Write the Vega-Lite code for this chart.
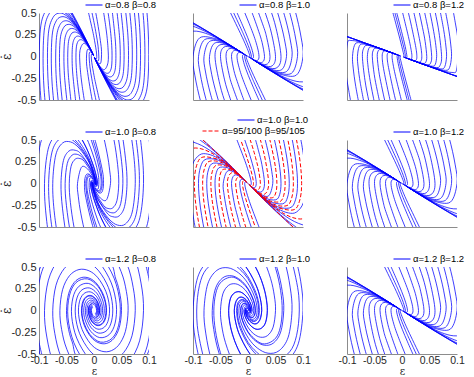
{
"$schema":"https://vega.github.io/schema/vega-lite/v6.json",
"padding":{"left":0,"top":-4,"right":0,"bottom":0},
"config":{"view":{"stroke":null},
"axis":{"grid":false,"ticks":false,"domainColor":"#8c8c8c","domainWidth":1,"labelFont":"Liberation Sans","labelFontSize":11,"labelColor":"#262626","labelPadding":3,"labelOverlap":false,"labelFlush":false,"titleFont":"DejaVu Serif","titleFontSize":12,"titleFontWeight":"normal","titleColor":"#262626","titlePadding":-3},
"legend":{"orient":"none","symbolType":"stroke","symbolSize":289,"symbolStrokeWidth":1,"labelFont":"Liberation Sans","labelFontSize":9.5,"labelColor":"#000000","labelOffset":2,"padding":0,"rowPadding":0}},
"data":{"values":[
{"c":101,"x":0.0112,"y":-0.538},{"c":101,"x":0.0033,"y":-0.318},{"c":101,"x":0,"y":-0.2175},{"c":101,"x":-0.0041,"y":-0.066},{"c":101,"x":-0.0049,"y":0.013},{"c":101,"x":-0.0035,"y":0.029},{"c":101,"x":-0.0007,"y":0.0085},
{"c":102,"x":0,"y":-0.609},{"c":102,"x":-0.0062,"y":-0.399},{"c":102,"x":-0.0115,"y":-0.185},{"c":102,"x":-0.0137,"y":-0.055},{"c":102,"x":-0.0123,"y":0.074},{"c":102,"x":-0.0069,"y":0.07},{"c":102,"x":-0.0019,"y":0.024},
{"c":103,"x":-0.0116,"y":-0.741},{"c":103,"x":-0.0214,"y":-0.343},{"c":103,"x":-0.0254,"y":-0.102},{"c":103,"x":-0.0255,"y":0.068},{"c":103,"x":-0.0182,"y":0.152},{"c":103,"x":-0.0075,"y":0.085},{"c":103,"x":-0.0011,"y":0.014},
{"c":104,"x":-0.033,"y":-0.528},{"c":104,"x":-0.0391,"y":-0.156},{"c":104,"x":-0.0393,"y":0.105},{"c":104,"x":-0.0351,"y":0.211},{"c":104,"x":-0.028,"y":0.234},{"c":104,"x":-0.0197,"y":0.199},{"c":104,"x":-0.0115,"y":0.131},{"c":104,"x":-0.0054,"y":0.068},{"c":104,"x":-0.0016,"y":0.022},
{"c":105,"x":-0.0453,"y":-0.725},{"c":105,"x":-0.0537,"y":-0.215},{"c":105,"x":-0.054,"y":0.144},{"c":105,"x":-0.0483,"y":0.29},{"c":105,"x":-0.0384,"y":0.322},{"c":105,"x":-0.0271,"y":0.273},{"c":105,"x":-0.0158,"y":0.18},{"c":105,"x":-0.0075,"y":0.093},{"c":105,"x":-0.0022,"y":0.03},
{"c":106,"x":-0.0577,"y":-0.923},{"c":106,"x":-0.0684,"y":-0.274},{"c":106,"x":-0.0687,"y":0.183},{"c":106,"x":-0.0615,"y":0.369},{"c":106,"x":-0.0489,"y":0.41},{"c":106,"x":-0.0345,"y":0.348},{"c":106,"x":-0.0201,"y":0.23},{"c":106,"x":-0.0095,"y":0.118},{"c":106,"x":-0.0028,"y":0.038},
{"c":107,"x":-0.07,"y":-1.121},{"c":107,"x":-0.083,"y":-0.332},{"c":107,"x":-0.0835,"y":0.223},{"c":107,"x":-0.0746,"y":0.448},{"c":107,"x":-0.0594,"y":0.498},{"c":107,"x":-0.0419,"y":0.422},{"c":107,"x":-0.0244,"y":0.279},{"c":107,"x":-0.0116,"y":0.144},{"c":107,"x":-0.0034,"y":0.046},
{"c":108,"x":-0.0824,"y":-1.319},{"c":108,"x":-0.0977,"y":-0.391},{"c":108,"x":-0.0982,"y":0.262},{"c":108,"x":-0.0878,"y":0.527},{"c":108,"x":-0.0699,"y":0.586},{"c":108,"x":-0.0493,"y":0.497},{"c":108,"x":-0.0287,"y":0.328},{"c":108,"x":-0.0136,"y":0.169},{"c":108,"x":-0.004,"y":0.054},
{"c":109,"x":-0.0839,"y":0.703},{"c":109,"x":-0.0592,"y":0.596},{"c":109,"x":-0.0344,"y":0.394},{"c":109,"x":-0.0163,"y":0.203},{"c":109,"x":-0.0048,"y":0.065},
{"c":110,"x":-0.0887,"y":0.895},{"c":110,"x":-0.0517,"y":0.59},{"c":110,"x":-0.0245,"y":0.304},{"c":110,"x":-0.0073,"y":0.097},{"c":110,"x":-0.0005,"y":0.0077},
{"c":111,"x":-0.1005,"y":1.148},{"c":111,"x":-0.0476,"y":0.5915},{"c":111,"x":-0.0141,"y":0.189},{"c":111,"x":-0.001,"y":0.015},
{"c":112,"x":-0.0147,"y":-0.94},{"c":112,"x":-0.0272,"y":-0.435},{"c":112,"x":-0.0322,"y":-0.129},{"c":112,"x":-0.0324,"y":0.0865},{"c":112,"x":-0.029,"y":0.174},{"c":112,"x":-0.0231,"y":0.193},{"c":112,"x":-0.0163,"y":0.164},{"c":112,"x":-0.0095,"y":0.108},{"c":112,"x":-0.0045,"y":0.0558},{"c":112,"x":-0.0013,"y":0.0178},
{"c":113,"x":-0.0396,"y":-0.633},{"c":113,"x":-0.0469,"y":-0.188},{"c":113,"x":-0.0471,"y":0.126},{"c":113,"x":-0.0421,"y":0.253},{"c":113,"x":-0.0336,"y":0.281},{"c":113,"x":-0.0237,"y":0.239},{"c":113,"x":-0.0138,"y":0.157},{"c":113,"x":-0.0065,"y":0.081},{"c":113,"x":-0.0019,"y":0.0259},
{"c":114,"x":-0.0519,"y":-0.831},{"c":114,"x":-0.0616,"y":-0.246},{"c":114,"x":-0.0619,"y":0.165},{"c":114,"x":-0.0553,"y":0.332},{"c":114,"x":-0.044,"y":0.369},{"c":114,"x":-0.0311,"y":0.313},{"c":114,"x":-0.0181,"y":0.207},{"c":114,"x":-0.0086,"y":0.106},{"c":114,"x":-0.0025,"y":0.034},
{"c":115,"x":-0.0643,"y":-1.029},{"c":115,"x":-0.0762,"y":-0.305},{"c":115,"x":-0.0766,"y":0.204},{"c":115,"x":-0.0685,"y":0.411},{"c":115,"x":-0.0545,"y":0.457},{"c":115,"x":-0.0385,"y":0.388},{"c":115,"x":-0.0224,"y":0.256},{"c":115,"x":-0.0106,"y":0.132},{"c":115,"x":-0.0032,"y":0.042},
{"c":116,"x":-0.0766,"y":-1.227},{"c":116,"x":-0.0909,"y":-0.364},{"c":116,"x":-0.0913,"y":0.244},{"c":116,"x":-0.0817,"y":0.49},{"c":116,"x":-0.065,"y":0.545},{"c":116,"x":-0.0458,"y":0.462},{"c":116,"x":-0.0267,"y":0.305},{"c":116,"x":-0.0126,"y":0.157},{"c":116,"x":-0.0038,"y":0.05},
{"c":117,"x":-0.1233,"y":1.243},{"c":117,"x":-0.0718,"y":0.82},{"c":117,"x":-0.034,"y":0.4225},{"c":117,"x":-0.0101,"y":0.135},{"c":117,"x":-0.0008,"y":0.011},
{"c":118,"x":0.006,"y":-0.573},{"c":118,"x":0,"y":-0.392},{"c":118,"x":-0.004,"y":-0.2565},{"c":118,"x":-0.0074,"y":-0.119},{"c":118,"x":-0.0088,"y":0.0236},{"c":118,"x":-0.0063,"y":0.0527},{"c":118,"x":-0.0026,"y":0.0295},{"c":118,"x":-0.0004,"y":0.0049},
{"c":201,"x":0.0342,"y":-0.534},{"c":201,"x":0.0135,"y":-0.2625},{"c":201,"x":0.0033,"y":-0.12},{"c":201,"x":-0.0022,"y":-0.032},{"c":201,"x":-0.0033,"y":0},{"c":201,"x":-0.0025,"y":0.0077},{"c":201,"x":-0.0005,"y":0.002},
{"c":202,"x":0.0202,"y":-0.507},{"c":202,"x":0.01,"y":-0.36},{"c":202,"x":0.0005,"y":-0.2166},{"c":202,"x":-0.0065,"y":-0.096},{"c":202,"x":-0.01,"y":0},{"c":202,"x":-0.0074,"y":0.023},{"c":202,"x":-0.0015,"y":0.006},
{"c":203,"x":0.02,"y":-0.72},{"c":203,"x":-0.0071,"y":-0.299},{"c":203,"x":-0.017,"y":-0.108},{"c":203,"x":-0.02,"y":0},{"c":203,"x":-0.0176,"y":0.043},{"c":203,"x":-0.0114,"y":0.04},{"c":203,"x":-0.003,"y":0.012},
{"c":204,"x":0.0022,"y":-0.866},{"c":204,"x":-0.026,"y":-0.383},{"c":204,"x":-0.0341,"y":-0.215},{"c":204,"x":-0.04,"y":0},{"c":204,"x":-0.0352,"y":0.0857},{"c":204,"x":-0.0227,"y":0.0806},{"c":204,"x":-0.006,"y":0.0238},
{"c":205,"x":-0.0212,"y":-0.898},{"c":205,"x":-0.039,"y":-0.575},{"c":205,"x":-0.0511,"y":-0.323},{"c":205,"x":-0.06,"y":0},{"c":205,"x":-0.0527,"y":0.1285},{"c":205,"x":-0.0341,"y":0.121},{"c":205,"x":-0.009,"y":0.0356},
{"c":206,"x":-0.052,"y":-0.767},{"c":206,"x":-0.0682,"y":-0.431},{"c":206,"x":-0.0772,"y":-0.178},{"c":206,"x":-0.08,"y":0},{"c":206,"x":-0.0703,"y":0.171},{"c":206,"x":-0.0455,"y":0.161},{"c":206,"x":-0.012,"y":0.0475},
{"c":207,"x":-0.065,"y":-0.959},{"c":207,"x":-0.0852,"y":-0.539},{"c":207,"x":-0.0965,"y":-0.223},{"c":207,"x":-0.1,"y":0},{"c":207,"x":-0.0879,"y":0.214},{"c":207,"x":-0.0569,"y":0.2016},{"c":207,"x":-0.0368,"y":0.1406},{"c":207,"x":-0.015,"y":0.0594},
{"c":208,"x":-0.1226,"y":0.179},{"c":208,"x":-0.111,"y":0.271},{"c":208,"x":-0.094,"y":0.291},{"c":208,"x":-0.072,"y":0.255},{"c":208,"x":-0.0466,"y":0.178},{"c":208,"x":-0.019,"y":0.075},
{"c":209,"x":-0.1236,"y":0.3835},{"c":209,"x":-0.0948,"y":0.336},{"c":209,"x":-0.0613,"y":0.234},{"c":209,"x":-0.0249,"y":0.099},{"c":209,"x":-0.0075,"y":0.03},
{"c":210,"x":-0.1327,"y":0.47},{"c":210,"x":-0.0858,"y":0.328},{"c":210,"x":-0.0349,"y":0.1386},{"c":210,"x":-0.0105,"y":0.042},
{"c":211,"x":-0.147,"y":0.5625},{"c":211,"x":-0.0598,"y":0.2376},{"c":211,"x":-0.018,"y":0.072},
{"c":212,"x":0.03,"y":-1.08},{"c":212,"x":0.0016,"y":-0.65},{"c":212,"x":-0.0106,"y":-0.449},{"c":212,"x":-0.0195,"y":-0.288},{"c":212,"x":-0.0256,"y":-0.1616},{"c":212,"x":-0.03,"y":0},{"c":212,"x":-0.0264,"y":0.0643},{"c":212,"x":-0.0171,"y":0.0605},{"c":212,"x":-0.0045,"y":0.0178},
{"c":213,"x":0.0027,"y":-1.083},{"c":213,"x":-0.0176,"y":-0.7485},{"c":213,"x":-0.0326,"y":-0.479},{"c":213,"x":-0.0426,"y":-0.269},{"c":213,"x":-0.05,"y":0},{"c":213,"x":-0.044,"y":0.1071},{"c":213,"x":-0.0284,"y":0.1008},{"c":213,"x":-0.0075,"y":0.0297},
{"c":214,"x":-0.0247,"y":-1.048},{"c":214,"x":-0.0456,"y":-0.671},{"c":214,"x":-0.0596,"y":-0.377},{"c":214,"x":-0.0675,"y":-0.1558},{"c":214,"x":-0.07,"y":0},{"c":214,"x":-0.0615,"y":0.15},{"c":214,"x":-0.0398,"y":0.1411},{"c":214,"x":-0.0105,"y":0.0416},
{"c":215,"x":-0.0586,"y":-0.863},{"c":215,"x":-0.0767,"y":-0.485},{"c":215,"x":-0.0868,"y":-0.2},{"c":215,"x":-0.09,"y":0},{"c":215,"x":-0.0791,"y":0.1928},{"c":215,"x":-0.0512,"y":0.1814},{"c":215,"x":-0.0331,"y":0.1266},{"c":215,"x":-0.0135,"y":0.0535},
{"c":216,"x":-0.1706,"y":0.605},{"c":216,"x":-0.1103,"y":0.422},{"c":216,"x":-0.0449,"y":0.1782},{"c":216,"x":-0.0135,"y":0.054},
{"c":217,"x":0.031,"y":-0.569},{"c":217,"x":0.0128,"y":-0.321},{"c":217,"x":0.0063,"y":-0.228},{"c":217,"x":-0.0022,"y":-0.0948},{"c":217,"x":-0.0063,"y":0},{"c":217,"x":-0.0047,"y":0.0146},{"c":217,"x":-0.0009,"y":0.0038},
{"c":301,"x":0.0171,"y":-0.517},{"c":301,"x":0.0106,"y":-0.364},{"c":301,"x":0.0038,"y":-0.2016},{"c":301,"x":-0.0023,"y":-0.046},{"c":301,"x":-0.0036,"y":0},{"c":301,"x":-0.0022,"y":0.005},
{"c":302,"x":0.0096,"y":-0.504},{"c":302,"x":0.0008,"y":-0.287},{"c":302,"x":-0.0058,"y":-0.115},{"c":302,"x":-0.009,"y":0},{"c":302,"x":-0.0079,"y":0.0159},{"c":302,"x":-0.0035,"y":0.008},
{"c":303,"x":0.0016,"y":-0.574},{"c":303,"x":-0.0116,"y":-0.2296},{"c":303,"x":-0.0168,"y":-0.0687},{"c":303,"x":-0.018,"y":0},{"c":303,"x":-0.0166,"y":0.03},{"c":303,"x":-0.011,"y":0.0252},{"c":303,"x":-0.003,"y":0.0069},
{"c":304,"x":-0.0127,"y":-0.742},{"c":304,"x":-0.0232,"y":-0.459},{"c":304,"x":-0.0336,"y":-0.137},{"c":304,"x":-0.036,"y":0},{"c":304,"x":-0.0346,"y":0.0507},{"c":304,"x":-0.0316,"y":0.0637},{"c":304,"x":-0.022,"y":0.0504},{"c":304,"x":-0.006,"y":0.0138},
{"c":305,"x":-0.0349,"y":-0.689},{"c":305,"x":-0.0447,"y":-0.4},{"c":305,"x":-0.0505,"y":-0.206},{"c":305,"x":-0.054,"y":0},{"c":305,"x":-0.0519,"y":0.0761},{"c":305,"x":-0.0473,"y":0.0956},{"c":305,"x":-0.033,"y":0.0755},{"c":305,"x":-0.009,"y":0.0207},
{"c":306,"x":-0.0465,"y":-0.918},{"c":306,"x":-0.0596,"y":-0.533},{"c":306,"x":-0.0673,"y":-0.275},{"c":306,"x":-0.072,"y":0},{"c":306,"x":-0.0692,"y":0.1014},{"c":306,"x":-0.0631,"y":0.1274},{"c":306,"x":-0.044,"y":0.1007},{"c":306,"x":-0.012,"y":0.0276},
{"c":307,"x":-0.0745,"y":-0.666},{"c":307,"x":-0.0841,"y":-0.344},{"c":307,"x":-0.0887,"y":-0.133},{"c":307,"x":-0.09,"y":0},{"c":307,"x":-0.0865,"y":0.1268},{"c":307,"x":-0.0789,"y":0.1593},{"c":307,"x":-0.055,"y":0.1259},{"c":307,"x":-0.015,"y":0.0345},
{"c":308,"x":-0.0857,"y":-0.766},{"c":308,"x":-0.0967,"y":-0.395},{"c":308,"x":-0.102,"y":-0.153},{"c":308,"x":-0.0995,"y":0.1458},{"c":308,"x":-0.0907,"y":0.1832},{"c":308,"x":-0.0632,"y":0.1448},{"c":308,"x":-0.0173,"y":0.0397},
{"c":309,"x":-0.118,"y":0.239},{"c":309,"x":-0.1046,"y":0.232},{"c":309,"x":-0.0825,"y":0.189},{"c":309,"x":-0.0525,"y":0.121},{"c":309,"x":-0.0225,"y":0.0518},
{"c":310,"x":-0.137,"y":0.315},{"c":310,"x":-0.0875,"y":0.201},{"c":310,"x":-0.0375,"y":0.086},{"c":310,"x":-0.0125,"y":0.029},
{"c":311,"x":-0.175,"y":0.4025},{"c":311,"x":-0.075,"y":0.1725},{"c":311,"x":-0.025,"y":0.0575},
{"c":312,"x":0.0024,"y":-0.862},{"c":312,"x":-0.0096,"y":-0.5565},{"c":312,"x":-0.0174,"y":-0.344},{"c":312,"x":-0.0252,"y":-0.103},{"c":312,"x":-0.027,"y":0},{"c":312,"x":-0.026,"y":0.038},{"c":312,"x":-0.0237,"y":0.0478},{"c":312,"x":-0.0165,"y":0.0378},{"c":312,"x":-0.0045,"y":0.0104},
{"c":313,"x":-0.0159,"y":-0.9275},{"c":313,"x":-0.029,"y":-0.574},{"c":313,"x":-0.0373,"y":-0.333},{"c":313,"x":-0.0421,"y":-0.172},{"c":313,"x":-0.045,"y":0},{"c":313,"x":-0.0433,"y":0.0634},{"c":313,"x":-0.0395,"y":0.0797},{"c":313,"x":-0.0275,"y":0.063},{"c":313,"x":-0.0075,"y":0.0173},
{"c":314,"x":-0.0407,"y":-0.804},{"c":314,"x":-0.0522,"y":-0.466},{"c":314,"x":-0.0589,"y":-0.2405},{"c":314,"x":-0.0621,"y":-0.0932},{"c":314,"x":-0.063,"y":0},{"c":314,"x":-0.0606,"y":0.0888},{"c":314,"x":-0.0552,"y":0.1115},{"c":314,"x":-0.0385,"y":0.0881},{"c":314,"x":-0.0105,"y":0.0242},
{"c":315,"x":-0.067,"y":-0.599},{"c":315,"x":-0.0757,"y":-0.309},{"c":315,"x":-0.0798,"y":-0.12},{"c":315,"x":-0.081,"y":0},{"c":315,"x":-0.0779,"y":0.1141},{"c":315,"x":-0.071,"y":0.1434},{"c":315,"x":-0.0495,"y":0.1133},{"c":315,"x":-0.0135,"y":0.031},
{"c":316,"x":0.0186,"y":-0.638},{"c":316,"x":0.0067,"y":-0.353},{"c":316,"x":0.00055,"y":-0.201},{"c":316,"x":-0.0041,"y":-0.0804},{"c":316,"x":-0.0063,"y":0},{"c":316,"x":-0.0055,"y":0.0112},{"c":316,"x":-0.0025,"y":0.0056},
{"c":317,"x":-0.1924,"y":0.4407},{"c":317,"x":-0.1225,"y":0.2818},{"c":317,"x":-0.0525,"y":0.1208},{"c":317,"x":-0.0175,"y":0.0403},
{"c":401,"x":0.0223,"y":-0.508},{"c":401,"x":0.0113,"y":-0.371},{"c":401,"x":0.0003,"y":-0.192},{"c":401,"x":-0.0048,"y":-0.07},{"c":401,"x":-0.006,"y":0},{"c":401,"x":-0.0034,"y":0.038},{"c":401,"x":-0.0004,"y":0.0148},{"c":401,"x":0.0003,"y":0},
{"c":402,"x":0.0123,"y":-0.686},{"c":402,"x":0.0007,"y":-0.479},{"c":402,"x":-0.0071,"y":-0.309},{"c":402,"x":-0.0119,"y":-0.174},{"c":402,"x":-0.015,"y":0},{"c":402,"x":-0.0114,"y":0.093},{"c":402,"x":-0.0058,"y":0.084},{"c":402,"x":-0.001,"y":0.0369},{"c":402,"x":0.0006,"y":0},
{"c":403,"x":0.0014,"y":-0.958},{"c":403,"x":-0.0143,"y":-0.617},{"c":403,"x":-0.0238,"y":-0.349},{"c":403,"x":-0.0286,"y":-0.146},{"c":403,"x":-0.03,"y":0},{"c":403,"x":-0.0229,"y":0.186},{"c":403,"x":-0.0117,"y":0.168},{"c":403,"x":-0.002,"y":0.0738},{"c":403,"x":0.0011,"y":0.0122},{"c":403,"x":0.0011,"y":-0.0072},
{"c":404,"x":-0.0214,"y":-0.926},{"c":404,"x":-0.0357,"y":-0.523},{"c":404,"x":-0.0429,"y":-0.218},{"c":404,"x":-0.045,"y":0},{"c":404,"x":-0.0417,"y":0.197},{"c":404,"x":-0.0343,"y":0.279},{"c":404,"x":-0.0257,"y":0.287},{"c":404,"x":-0.0175,"y":0.253},{"c":404,"x":-0.003,"y":0.111},{"c":404,"x":0.0017,"y":0.018},{"c":404,"x":0.0016,"y":-0.011},
{"c":405,"x":-0.0285,"y":-1.235},{"c":405,"x":-0.0476,"y":-0.697},{"c":405,"x":-0.0572,"y":-0.291},{"c":405,"x":-0.06,"y":0},{"c":405,"x":-0.0556,"y":0.263},{"c":405,"x":-0.0458,"y":0.372},{"c":405,"x":-0.0343,"y":0.382},{"c":405,"x":-0.0234,"y":0.337},{"c":405,"x":-0.004,"y":0.148},{"c":405,"x":0.0022,"y":0.0244},{"c":405,"x":0.0022,"y":-0.0145},
{"c":406,"x":-0.0595,"y":-0.872},{"c":406,"x":-0.0716,"y":-0.364},{"c":406,"x":-0.075,"y":0},{"c":406,"x":-0.0695,"y":0.328},{"c":406,"x":-0.0572,"y":0.465},{"c":406,"x":-0.0428,"y":0.478},{"c":406,"x":-0.0292,"y":0.421},{"c":406,"x":-0.0147,"y":0.303},{"c":406,"x":-0.005,"y":0.185},{"c":406,"x":0.0028,"y":0.0305},{"c":406,"x":0.0027,"y":-0.018},
{"c":407,"x":-0.0714,"y":-1.046},{"c":407,"x":-0.0859,"y":-0.437},{"c":407,"x":-0.09,"y":0},{"c":407,"x":-0.0834,"y":0.394},{"c":407,"x":-0.0687,"y":0.558},{"c":407,"x":-0.0514,"y":0.573},{"c":407,"x":-0.0351,"y":0.505},{"c":407,"x":-0.0176,"y":0.363},{"c":407,"x":-0.006,"y":0.221},{"c":407,"x":0.0033,"y":0.0366},{"c":407,"x":0.0033,"y":-0.0217},
{"c":408,"x":-0.0833,"y":-1.22},{"c":408,"x":-0.1002,"y":-0.51},{"c":408,"x":-0.105,"y":0},{"c":408,"x":-0.0973,"y":0.46},{"c":408,"x":-0.0801,"y":0.651},{"c":408,"x":-0.06,"y":0.669},{"c":408,"x":-0.0409,"y":0.589},{"c":408,"x":-0.0206,"y":0.424},{"c":408,"x":-0.007,"y":0.258},{"c":408,"x":0.0039,"y":0.0427},{"c":408,"x":0.0038,"y":-0.0254},
{"c":409,"x":-0.08,"y":0.892},{"c":409,"x":-0.0546,"y":0.786},{"c":409,"x":-0.0274,"y":0.565},{"c":409,"x":-0.0093,"y":0.345},{"c":409,"x":0.0052,"y":0.057},{"c":409,"x":0.0051,"y":-0.0338},
{"c":410,"x":-0.0858,"y":1.235},{"c":410,"x":-0.0431,"y":0.888},{"c":410,"x":-0.0147,"y":0.541},{"c":410,"x":0,"y":0.295},{"c":410,"x":0.0081,"y":0.0895},{"c":410,"x":0.0081,"y":-0.053},{"c":410,"x":0.0045,"y":-0.0575},
{"c":411,"x":-0.0784,"y":1.614},{"c":411,"x":-0.0267,"y":0.984},{"c":411,"x":0,"y":0.536},{"c":411,"x":0.0148,"y":0.163},{"c":411,"x":0.0173,"y":0},{"c":411,"x":0.0146,"y":-0.0966},{"c":411,"x":0.0082,"y":-0.1046},{"c":411,"x":0.0018,"y":-0.0516},
{"c":412,"x":-0.0249,"y":-1.08},{"c":412,"x":-0.0416,"y":-0.61},{"c":412,"x":-0.0501,"y":-0.255},{"c":412,"x":-0.0525,"y":0},{"c":412,"x":-0.0486,"y":0.23},{"c":412,"x":-0.04,"y":0.325},{"c":412,"x":-0.03,"y":0.334},{"c":412,"x":-0.0205,"y":0.295},{"c":412,"x":-0.0103,"y":0.212},{"c":412,"x":-0.0035,"y":0.129},{"c":412,"x":0.0019,"y":0.0214},{"c":412,"x":0.0019,"y":-0.0127},
{"c":413,"x":-0.0654,"y":-0.959},{"c":413,"x":-0.0787,"y":-0.4},{"c":413,"x":-0.0825,"y":0},{"c":413,"x":-0.0764,"y":0.361},{"c":413,"x":-0.0629,"y":0.511},{"c":413,"x":-0.0471,"y":0.526},{"c":413,"x":-0.0322,"y":0.463},{"c":413,"x":-0.0162,"y":0.333},{"c":413,"x":-0.0055,"y":0.203},{"c":413,"x":0.003,"y":0.0336},{"c":413,"x":0.003,"y":-0.0199},
{"c":414,"x":-0.0588,"y":1.211},{"c":414,"x":-0.02,"y":0.738},{"c":414,"x":0,"y":0.402},{"c":414,"x":0.0111,"y":0.122},{"c":414,"x":0.013,"y":0},{"c":414,"x":0.011,"y":-0.0725},{"c":414,"x":0.0061,"y":-0.0785},
{"c":501,"x":0.0205,"y":-0.508},{"c":501,"x":0.0094,"y":-0.3245},{"c":501,"x":0.0026,"y":-0.206},{"c":501,"x":-0.0038,"y":-0.0749},{"c":501,"x":-0.006,"y":0},{"c":501,"x":-0.0042,"y":0.0193},{"c":501,"x":-0.0006,"y":0.0037},
{"c":502,"x":0.0234,"y":-0.811},{"c":502,"x":0.0066,"y":-0.515},{"c":502,"x":-0.0054,"y":-0.281},{"c":502,"x":-0.0126,"y":-0.109},{"c":502,"x":-0.015,"y":0},{"c":502,"x":-0.0126,"y":0.0468},{"c":502,"x":-0.0077,"y":0.041},{"c":502,"x":-0.0015,"y":0.0093},
{"c":503,"x":0.0132,"y":-1.03},{"c":503,"x":-0.0108,"y":-0.562},{"c":503,"x":-0.0192,"y":-0.374},{"c":503,"x":-0.0252,"y":-0.218},{"c":503,"x":-0.03,"y":0},{"c":503,"x":-0.0252,"y":0.0936},{"c":503,"x":-0.0153,"y":0.0819},{"c":503,"x":-0.0029,"y":0.0185},
{"c":504,"x":-0.0162,"y":-0.842},{"c":504,"x":-0.0288,"y":-0.562},{"c":504,"x":-0.0378,"y":-0.328},{"c":504,"x":-0.0432,"y":-0.14},{"c":504,"x":-0.045,"y":0},{"c":504,"x":-0.0378,"y":0.14},{"c":504,"x":-0.023,"y":0.123},{"c":504,"x":-0.0044,"y":0.0278},
{"c":505,"x":-0.0216,"y":-1.123},{"c":505,"x":-0.0384,"y":-0.749},{"c":505,"x":-0.0504,"y":-0.437},{"c":505,"x":-0.0576,"y":-0.187},{"c":505,"x":-0.06,"y":0},{"c":505,"x":-0.0576,"y":0.125},{"c":505,"x":-0.0504,"y":0.187},{"c":505,"x":-0.0306,"y":0.164},{"c":505,"x":-0.0059,"y":0.0371},
{"c":506,"x":-0.048,"y":-0.936},{"c":506,"x":-0.063,"y":-0.546},{"c":506,"x":-0.072,"y":-0.234},{"c":506,"x":-0.075,"y":0},{"c":506,"x":-0.072,"y":0.156},{"c":506,"x":-0.063,"y":0.234},{"c":506,"x":-0.0383,"y":0.205},{"c":506,"x":-0.0208,"y":0.124},{"c":506,"x":-0.0073,"y":0.0464},
{"c":507,"x":-0.0576,"y":-1.123},{"c":507,"x":-0.0756,"y":-0.655},{"c":507,"x":-0.0864,"y":-0.281},{"c":507,"x":-0.09,"y":0},{"c":507,"x":-0.0864,"y":0.187},{"c":507,"x":-0.0756,"y":0.281},{"c":507,"x":-0.0459,"y":0.246},{"c":507,"x":-0.0088,"y":0.0556},
{"c":508,"x":-0.0882,"y":-0.764},{"c":508,"x":-0.1008,"y":-0.328},{"c":508,"x":-0.105,"y":0},{"c":508,"x":-0.1008,"y":0.218},{"c":508,"x":-0.0882,"y":0.328},{"c":508,"x":-0.0733,"y":0.338},{"c":508,"x":-0.0536,"y":0.287},{"c":508,"x":-0.0291,"y":0.174},{"c":508,"x":-0.0102,"y":0.0649},
{"c":509,"x":-0.126,"y":0.468},{"c":509,"x":-0.1047,"y":0.483},{"c":509,"x":-0.0765,"y":0.41},{"c":509,"x":-0.0416,"y":0.249},{"c":509,"x":-0.0146,"y":0.0927},
{"c":510,"x":-0.1275,"y":0.6825},{"c":510,"x":-0.0694,"y":0.4145},{"c":510,"x":-0.0244,"y":0.1545},
{"c":511,"x":-0.1388,"y":0.829},{"c":511,"x":-0.0488,"y":0.309},{"c":511,"x":-0.0149,"y":0.096},
{"c":551,"x":0.0156,"y":-0.541},{"c":551,"x":0.0044,"y":-0.343},{"c":551,"x":-0.0036,"y":-0.187},{"c":551,"x":-0.0084,"y":-0.0728},{"c":551,"x":-0.01,"y":0},{"c":551,"x":-0.0084,"y":0.0312},{"c":551,"x":-0.0051,"y":0.0273},{"c":551,"x":-0.001,"y":0.0062},
{"c":552,"x":0.0099,"y":-0.772},{"c":552,"x":-0.0081,"y":-0.421},{"c":552,"x":-0.0144,"y":-0.281},{"c":552,"x":-0.0189,"y":-0.164},{"c":552,"x":-0.0225,"y":0},{"c":552,"x":-0.0189,"y":0.0702},{"c":552,"x":-0.0115,"y":0.0614},{"c":552,"x":-0.0022,"y":0.0139},
{"c":553,"x":0,"y":-0.975},{"c":553,"x":-0.0135,"y":-0.702},{"c":553,"x":-0.024,"y":-0.468},{"c":553,"x":-0.0315,"y":-0.273},{"c":553,"x":-0.0375,"y":0},{"c":553,"x":-0.0315,"y":0.117},{"c":553,"x":-0.0191,"y":0.102},{"c":553,"x":-0.0037,"y":0.0232},
{"c":554,"x":-0.0189,"y":-0.983},{"c":554,"x":-0.0336,"y":-0.655},{"c":554,"x":-0.0441,"y":-0.382},{"c":554,"x":-0.0504,"y":-0.164},{"c":554,"x":-0.0525,"y":0},{"c":554,"x":-0.0504,"y":0.109},{"c":554,"x":-0.0441,"y":0.164},{"c":554,"x":-0.0268,"y":0.143},{"c":554,"x":-0.0051,"y":0.0324},
{"c":555,"x":-0.0432,"y":-0.842},{"c":555,"x":-0.0567,"y":-0.491},{"c":555,"x":-0.0648,"y":-0.211},{"c":555,"x":-0.0675,"y":0},{"c":555,"x":-0.0648,"y":0.14},{"c":555,"x":-0.0567,"y":0.211},{"c":555,"x":-0.0344,"y":0.184},{"c":555,"x":-0.0066,"y":0.0417},
{"c":556,"x":-0.0528,"y":-1.03},{"c":556,"x":-0.0693,"y":-0.601},{"c":556,"x":-0.0792,"y":-0.257},{"c":556,"x":-0.0825,"y":0},{"c":556,"x":-0.0792,"y":0.172},{"c":556,"x":-0.0693,"y":0.257},{"c":556,"x":-0.0421,"y":0.225},{"c":556,"x":-0.0081,"y":0.051},
{"c":557,"x":-0.0819,"y":-0.71},{"c":557,"x":-0.0936,"y":-0.304},{"c":557,"x":-0.0975,"y":0},{"c":557,"x":-0.0936,"y":0.203},{"c":557,"x":-0.0819,"y":0.304},{"c":557,"x":-0.0497,"y":0.266},{"c":557,"x":-0.0271,"y":0.162},{"c":557,"x":-0.0095,"y":0.0603},
{"c":558,"x":-0.12,"y":0.26},{"c":558,"x":-0.105,"y":0.39},{"c":558,"x":-0.0873,"y":0.402},{"c":558,"x":-0.0638,"y":0.341},{"c":558,"x":-0.0347,"y":0.207},{"c":558,"x":-0.0122,"y":0.0773},
{"c":559,"x":-0.1785,"y":0.9555},{"c":559,"x":-0.0972,"y":0.58},{"c":559,"x":-0.0342,"y":0.216},{"c":559,"x":-0.0104,"y":0.067},
{"c":701,"x":0.0967,"y":0.5985},{"c":701,"x":0.1085,"y":-0.1643},{"c":701,"x":0.0944,"y":-0.543},{"c":701,"x":0.0685,"y":-0.7705},{"c":701,"x":-0.0212,"y":-0.5945},{"c":701,"x":-0.0397,"y":-0.3608},{"c":701,"x":-0.0475,"y":-0.1752},{"c":701,"x":-0.05,"y":0},{"c":701,"x":-0.0461,"y":0.1938},{"c":701,"x":-0.0359,"y":0.323},{"c":701,"x":-0.0221,"y":0.3797},{"c":701,"x":-0.0074,"y":0.3685},{"c":701,"x":0.0057,"y":0.3034},{"c":701,"x":0.0174,"y":0.1762},{"c":701,"x":0.0226,"y":0.0367},{"c":701,"x":0.0214,"y":-0.0804},{"c":701,"x":0.0155,"y":-0.1531},{"c":701,"x":0.0057,"y":-0.173},{"c":701,"x":-0.0034,"y":-0.1325},{"c":701,"x":-0.009,"y":-0.06},{"c":701,"x":-0.0104,"y":0.0019},{"c":701,"x":-0.0086,"y":0.0567},{"c":701,"x":-0.0045,"y":0.0792},{"c":701,"x":0,"y":0.0704},{"c":701,"x":0.0033,"y":0.0417},{"c":701,"x":0.0047,"y":0.0013},{"c":701,"x":0.004,"y":-0.0246},{"c":701,"x":0.0018,"y":-0.0363},
{"c":702,"x":0.0067,"y":-0.9536},{"c":702,"x":-0.0263,"y":-0.737},{"c":702,"x":-0.0493,"y":-0.447},{"c":702,"x":-0.0589,"y":-0.2172},{"c":702,"x":-0.062,"y":0},{"c":702,"x":-0.0571,"y":0.2403},{"c":702,"x":-0.0445,"y":0.4005},{"c":702,"x":-0.0273,"y":0.4708},{"c":702,"x":-0.0092,"y":0.4569},{"c":702,"x":0.0071,"y":0.3762},{"c":702,"x":0.0216,"y":0.2185},{"c":702,"x":0.028,"y":0.0455},{"c":702,"x":0.0265,"y":-0.0997},{"c":702,"x":0.0192,"y":-0.1898},{"c":702,"x":0.0071,"y":-0.2146},{"c":702,"x":-0.0042,"y":-0.1642},{"c":702,"x":-0.0112,"y":-0.0743},{"c":702,"x":-0.0129,"y":0.0024},{"c":702,"x":-0.0106,"y":0.0703},{"c":702,"x":-0.0055,"y":0.0981},{"c":702,"x":0,"y":0.0873},{"c":702,"x":0.0041,"y":0.0517},{"c":702,"x":0.0059,"y":0.0016},{"c":702,"x":0.005,"y":-0.0305},{"c":702,"x":0.0023,"y":-0.045},
{"c":703,"x":0.0081,"y":-1.1535},{"c":703,"x":-0.0318,"y":-0.892},{"c":703,"x":-0.0596,"y":-0.541},{"c":703,"x":-0.0713,"y":-0.2628},{"c":703,"x":-0.075,"y":0},{"c":703,"x":-0.0691,"y":0.2906},{"c":703,"x":-0.0538,"y":0.4845},{"c":703,"x":-0.0331,"y":0.5696},{"c":703,"x":-0.0111,"y":0.5528},{"c":703,"x":0.0086,"y":0.455},{"c":703,"x":0.0262,"y":0.2643},{"c":703,"x":0.0338,"y":0.055},{"c":703,"x":0.032,"y":-0.1206},{"c":703,"x":0.0233,"y":-0.2297},{"c":703,"x":0.0086,"y":-0.2596},{"c":703,"x":-0.0051,"y":-0.1987},{"c":703,"x":-0.0135,"y":-0.0899},{"c":703,"x":-0.0156,"y":0.0029},{"c":703,"x":-0.0128,"y":0.085},{"c":703,"x":-0.0067,"y":0.1187},{"c":703,"x":0,"y":0.1056},{"c":703,"x":0.0049,"y":0.0626},{"c":703,"x":0.0071,"y":0.002},{"c":703,"x":0.006,"y":-0.0369},{"c":703,"x":0.0027,"y":-0.0545},
{"c":704,"x":-0.0381,"y":-1.07},{"c":704,"x":-0.0715,"y":-0.649},{"c":704,"x":-0.0855,"y":-0.3154},{"c":704,"x":-0.09,"y":0},{"c":704,"x":-0.0829,"y":0.3488},{"c":704,"x":-0.0646,"y":0.5814},{"c":704,"x":-0.0397,"y":0.6835},{"c":704,"x":-0.0133,"y":0.6633},{"c":704,"x":0.0103,"y":0.546},{"c":704,"x":0.0314,"y":0.3172},{"c":704,"x":0.0406,"y":0.0661},{"c":704,"x":0.0384,"y":-0.1447},{"c":704,"x":0.0279,"y":-0.2756},{"c":704,"x":0.0103,"y":-0.3115},{"c":704,"x":-0.0061,"y":-0.2384},{"c":704,"x":-0.0162,"y":-0.1079},{"c":704,"x":-0.0187,"y":0.0035},{"c":704,"x":-0.0154,"y":0.1021},{"c":704,"x":-0.008,"y":0.1425},{"c":704,"x":0,"y":0.1267},{"c":704,"x":0.0059,"y":0.0751},{"c":704,"x":0.0085,"y":0.0024},{"c":704,"x":0.0072,"y":-0.0443},{"c":704,"x":0.0033,"y":-0.0653},
{"c":705,"x":-0.0835,"y":-0.758},{"c":705,"x":-0.0998,"y":-0.368},{"c":705,"x":-0.105,"y":0},{"c":705,"x":-0.0968,"y":0.4069},{"c":705,"x":-0.0753,"y":0.678},{"c":705,"x":-0.0463,"y":0.797},{"c":705,"x":-0.0155,"y":0.774},{"c":705,"x":0.012,"y":0.637},{"c":705,"x":0.0366,"y":0.37},{"c":705,"x":0.0474,"y":0.0771},{"c":705,"x":0.0448,"y":-0.1688},{"c":705,"x":0.0326,"y":-0.3215},{"c":705,"x":0.012,"y":-0.3634},{"c":705,"x":-0.0071,"y":-0.2781},{"c":705,"x":-0.019,"y":-0.1259},{"c":705,"x":-0.0218,"y":0.004},{"c":705,"x":-0.018,"y":0.1191},{"c":705,"x":-0.0094,"y":0.1662},{"c":705,"x":0,"y":0.1478},{"c":705,"x":0.0069,"y":0.0876},{"c":705,"x":0.01,"y":0.0028},{"c":705,"x":0.0084,"y":-0.0517},{"c":705,"x":0.0038,"y":-0.0762},
{"c":801,"x":0.0294,"y":-0.6675},{"c":801,"x":0.0047,"y":-0.5095},{"c":801,"x":-0.0126,"y":-0.321},{"c":801,"x":-0.0205,"y":-0.1847},{"c":801,"x":-0.025,"y":0},{"c":801,"x":-0.0177,"y":0.1443},{"c":801,"x":-0.0053,"y":0.1347},{"c":801,"x":0.0036,"y":0.0515},{"c":801,"x":0.0046,"y":-0.0219},{"c":801,"x":0.0004,"y":-0.0236},{"c":801,"x":-0.0011,"y":0.0014},
{"c":802,"x":0.0066,"y":-0.713},{"c":802,"x":-0.0176,"y":-0.449},{"c":802,"x":-0.0287,"y":-0.2585},{"c":802,"x":-0.0335,"y":-0.1177},{"c":802,"x":-0.035,"y":0},{"c":802,"x":-0.032,"y":0.1339},{"c":802,"x":-0.0248,"y":0.202},{"c":802,"x":-0.0159,"y":0.2148},{"c":802,"x":-0.0074,"y":0.1886},{"c":802,"x":-0.0005,"y":0.1405},{"c":802,"x":0.005,"y":0.072},{"c":802,"x":0.0072,"y":0.0132},{"c":802,"x":0.0065,"y":-0.0307},{"c":802,"x":0.0035,"y":-0.0448},{"c":802,"x":0.0006,"y":-0.033},{"c":802,"x":-0.0015,"y":0.002},
{"c":803,"x":-0.0099,"y":-0.832},{"c":803,"x":-0.0252,"y":-0.642},{"c":803,"x":-0.041,"y":-0.3694},{"c":803,"x":-0.0479,"y":-0.1682},{"c":803,"x":-0.05,"y":0},{"c":803,"x":-0.0457,"y":0.1913},{"c":803,"x":-0.0354,"y":0.2886},{"c":803,"x":-0.0227,"y":0.3069},{"c":803,"x":-0.0106,"y":0.2695},{"c":803,"x":-0.0007,"y":0.2007},{"c":803,"x":0.0072,"y":0.1029},{"c":803,"x":0.0103,"y":0.0189},{"c":803,"x":0.0092,"y":-0.0439},{"c":803,"x":0.005,"y":-0.064},{"c":803,"x":0.0008,"y":-0.0472},{"c":803,"x":-0.0016,"y":-0.0191},{"c":803,"x":-0.0021,"y":0.0029},
{"c":804,"x":-0.0328,"y":-0.835},{"c":804,"x":-0.0532,"y":-0.48},{"c":804,"x":-0.0623,"y":-0.2187},{"c":804,"x":-0.065,"y":0},{"c":804,"x":-0.0594,"y":0.2487},{"c":804,"x":-0.046,"y":0.3751},{"c":804,"x":-0.0295,"y":0.399},{"c":804,"x":-0.0137,"y":0.3503},{"c":804,"x":-0.0009,"y":0.2609},{"c":804,"x":0.0093,"y":0.1338},{"c":804,"x":0.0133,"y":0.0246},{"c":804,"x":0.012,"y":-0.057},{"c":804,"x":0.0065,"y":-0.0832},{"c":804,"x":0.001,"y":-0.0614},{"c":804,"x":-0.0021,"y":-0.0248},{"c":804,"x":-0.0028,"y":0.0037},
{"c":805,"x":-0.0403,"y":-1.027},{"c":805,"x":-0.0655,"y":-0.591},{"c":805,"x":-0.0766,"y":-0.2691},{"c":805,"x":-0.08,"y":0},{"c":805,"x":-0.0731,"y":0.3061},{"c":805,"x":-0.0566,"y":0.4617},{"c":805,"x":-0.0364,"y":0.491},{"c":805,"x":-0.0169,"y":0.4311},{"c":805,"x":-0.0011,"y":0.3211},{"c":805,"x":0.0115,"y":0.1646},{"c":805,"x":0.0164,"y":0.0302},{"c":805,"x":0.0148,"y":-0.0702},{"c":805,"x":0.008,"y":-0.1024},{"c":805,"x":0.0013,"y":-0.0755},{"c":805,"x":-0.0026,"y":-0.0306},{"c":805,"x":-0.0034,"y":0.0046},{"c":805,"x":-0.0022,"y":0.0208},
{"c":806,"x":-0.0819,"y":-0.7387},{"c":806,"x":-0.0958,"y":-0.3364},{"c":806,"x":-0.1,"y":0},{"c":806,"x":-0.0914,"y":0.3826},{"c":806,"x":-0.0707,"y":0.5771},{"c":806,"x":-0.0455,"y":0.6138},{"c":806,"x":-0.0211,"y":0.5389},{"c":806,"x":-0.0014,"y":0.4014},{"c":806,"x":0.0144,"y":0.2058},{"c":806,"x":0.0205,"y":0.0378},{"c":806,"x":0.0185,"y":-0.0877},{"c":806,"x":0.01,"y":-0.128},{"c":806,"x":0.0016,"y":-0.0944},{"c":806,"x":-0.0032,"y":-0.0382},{"c":806,"x":-0.0043,"y":0.0057},{"c":806,"x":-0.0027,"y":0.026},
{"c":807,"x":-0.0546,"y":0.7366},{"c":807,"x":-0.0254,"y":0.6467},{"c":807,"x":-0.0017,"y":0.4817},{"c":807,"x":0.0173,"y":0.247},{"c":807,"x":0.0246,"y":0.0454},{"c":807,"x":0.0222,"y":-0.1052},{"c":807,"x":0.012,"y":-0.1536},{"c":807,"x":0.0019,"y":-0.1133},{"c":807,"x":-0.0039,"y":-0.0458},{"c":807,"x":-0.0051,"y":0.0068},{"c":807,"x":-0.0033,"y":0.0312},
{"c":808,"x":-0.0359,"y":0.916},{"c":808,"x":-0.0024,"y":0.682},{"c":808,"x":0.0244,"y":0.35},{"c":808,"x":0.0349,"y":0.0643},{"c":808,"x":0.0314,"y":-0.149},{"c":808,"x":0.017,"y":-0.2176},{"c":808,"x":0.0027,"y":-0.1605},{"c":808,"x":-0.0055,"y":-0.065},{"c":808,"x":-0.0073,"y":0.0097},
{"c":809,"x":-0.0043,"y":1.204},{"c":809,"x":0.0431,"y":0.617},{"c":809,"x":0.0615,"y":0.1134},{"c":809,"x":0.0554,"y":-0.263},{"c":809,"x":0.03,"y":-0.384},{"c":809,"x":0.0048,"y":-0.283},{"c":809,"x":-0.0097,"y":-0.1146},{"c":809,"x":-0.0129,"y":0.0171},{"c":809,"x":-0.0082,"y":0.078},{"c":809,"x":-0.0019,"y":0.0651},
{"c":810,"x":0.0647,"y":0.926},{"c":810,"x":0.0923,"y":0.17},{"c":810,"x":0.0832,"y":-0.395},{"c":810,"x":0.045,"y":-0.576},{"c":810,"x":0.0072,"y":-0.425},{"c":810,"x":-0.0145,"y":-0.172},{"c":810,"x":-0.0193,"y":0.0257},{"c":810,"x":-0.0123,"y":0.117},{"c":810,"x":-0.0029,"y":0.0977}
]},
"columns":3,
"spacing":{"row":40,"column":44},
"bounds":"flush",
"resolve":{"scale":{"color":"independent","strokeDash":"independent"},"legend":{"color":"independent","strokeDash":"independent"}},
"concat":[
{"width":110,"height":87,"transform":[{"filter":"datum.c<200"}],
 "layer":[
  {"mark":{"type":"line","clip":true,"strokeWidth":0.75,"interpolate":"cardinal"},
   "encoding":{"x":{"field":"x","type":"quantitative","scale":{"domain":[-0.1,0.1]},"axis":{"labels":false,"title":null,"values":[-0.1,-0.05,0,0.05,0.1]}},
   "y":{"field":"y","type":"quantitative","scale":{"domain":[-0.5,0.5]},"axis":{"title":"ε̇","values":[-0.5,-0.25,0,0.25,0.5],"labelExpr":"''+datum.value"}},
   "detail":{"field":"c","type":"nominal"},"order":{"value":null},
   "color":{"datum":"α=0.8 β=0.8","type":"nominal","scale":{"range":["#0000ff"]},"legend":{"title":null,"legendX":46,"legendY":-17}}}},
  {"mark":{"type":"line","clip":true,"strokeWidth":0.75,"interpolate":"cardinal"},
   "encoding":{"x":{"field":"x","type":"quantitative","scale":{"domain":[-0.1,0.1],"reverse":true},"axis":null},
   "y":{"field":"y","type":"quantitative","scale":{"domain":[-0.5,0.5],"reverse":true},"axis":null},
   "detail":{"field":"c","type":"nominal"},"order":{"value":null},
   "color":{"datum":"α=0.8 β=0.8","type":"nominal"}}}
 ],"resolve":{"scale":{"x":"independent","y":"independent"}}},
{"width":110,"height":87,"transform":[{"filter":"datum.c>=200 && datum.c<300"}],
 "layer":[
  {"mark":{"type":"line","clip":true,"strokeWidth":0.75,"interpolate":"cardinal"},
   "encoding":{"x":{"field":"x","type":"quantitative","scale":{"domain":[-0.1,0.1]},"axis":{"labels":false,"title":null,"values":[-0.1,-0.05,0,0.05,0.1]}},
   "y":{"field":"y","type":"quantitative","scale":{"domain":[-0.5,0.5]},"axis":{"labels":false,"title":null,"values":[-0.5,-0.25,0,0.25,0.5]}},
   "detail":{"field":"c","type":"nominal"},"order":{"value":null},
   "color":{"datum":"α=0.8 β=1.0","type":"nominal","scale":{"range":["#0000ff"]},"legend":{"title":null,"legendX":46,"legendY":-17}}}},
  {"mark":{"type":"line","clip":true,"strokeWidth":0.75,"interpolate":"cardinal"},
   "encoding":{"x":{"field":"x","type":"quantitative","scale":{"domain":[-0.1,0.1],"reverse":true},"axis":null},
   "y":{"field":"y","type":"quantitative","scale":{"domain":[-0.5,0.5],"reverse":true},"axis":null},
   "detail":{"field":"c","type":"nominal"},"order":{"value":null},
   "color":{"datum":"α=0.8 β=1.0","type":"nominal"}}}
 ],"resolve":{"scale":{"x":"independent","y":"independent"}}},
{"width":110,"height":87,"transform":[{"filter":"datum.c>=300 && datum.c<400"}],
 "layer":[
  {"mark":{"type":"line","clip":true,"strokeWidth":0.75,"interpolate":"cardinal"},
   "encoding":{"x":{"field":"x","type":"quantitative","scale":{"domain":[-0.1,0.1]},"axis":{"labels":false,"title":null,"values":[-0.1,-0.05,0,0.05,0.1]}},
   "y":{"field":"y","type":"quantitative","scale":{"domain":[-0.5,0.5]},"axis":{"labels":false,"title":null,"values":[-0.5,-0.25,0,0.25,0.5]}},
   "detail":{"field":"c","type":"nominal"},"order":{"value":null},
   "color":{"datum":"α=0.8 β=1.2","type":"nominal","scale":{"range":["#0000ff"]},"legend":{"title":null,"legendX":46,"legendY":-17}}}},
  {"mark":{"type":"line","clip":true,"strokeWidth":0.75,"interpolate":"cardinal"},
   "encoding":{"x":{"field":"x","type":"quantitative","scale":{"domain":[-0.1,0.1],"reverse":true},"axis":null},
   "y":{"field":"y","type":"quantitative","scale":{"domain":[-0.5,0.5],"reverse":true},"axis":null},
   "detail":{"field":"c","type":"nominal"},"order":{"value":null},
   "color":{"datum":"α=0.8 β=1.2","type":"nominal"}}}
 ],"resolve":{"scale":{"x":"independent","y":"independent"}}},
{"width":110,"height":87,"transform":[{"filter":"datum.c>=400 && datum.c<500"}],
 "layer":[
  {"mark":{"type":"line","clip":true,"strokeWidth":0.75,"interpolate":"cardinal"},
   "encoding":{"x":{"field":"x","type":"quantitative","scale":{"domain":[-0.1,0.1]},"axis":{"labels":false,"title":null,"values":[-0.1,-0.05,0,0.05,0.1]}},
   "y":{"field":"y","type":"quantitative","scale":{"domain":[-0.5,0.5]},"axis":{"title":"ε̇","values":[-0.5,-0.25,0,0.25,0.5],"labelExpr":"''+datum.value"}},
   "detail":{"field":"c","type":"nominal"},"order":{"value":null},
   "color":{"datum":"α=1.0 β=0.8","type":"nominal","scale":{"range":["#0000ff"]},"legend":{"title":null,"legendX":46,"legendY":-17}}}},
  {"mark":{"type":"line","clip":true,"strokeWidth":0.75,"interpolate":"cardinal"},
   "encoding":{"x":{"field":"x","type":"quantitative","scale":{"domain":[-0.1,0.1],"reverse":true},"axis":null},
   "y":{"field":"y","type":"quantitative","scale":{"domain":[-0.5,0.5],"reverse":true},"axis":null},
   "detail":{"field":"c","type":"nominal"},"order":{"value":null},
   "color":{"datum":"α=1.0 β=0.8","type":"nominal"}}}
 ],"resolve":{"scale":{"x":"independent","y":"independent"}}},
{"width":110,"height":87,
 "layer":[
  {"transform":[{"filter":"datum.c>=500 && datum.c<550"}],"mark":{"type":"line","clip":true,"strokeWidth":0.75,"interpolate":"cardinal"},
   "encoding":{"x":{"field":"x","type":"quantitative","scale":{"domain":[-0.1,0.1]},"axis":{"labels":false,"title":null,"values":[-0.1,-0.05,0,0.05,0.1]}},
   "y":{"field":"y","type":"quantitative","scale":{"domain":[-0.5,0.5]},"axis":{"labels":false,"title":null,"values":[-0.5,-0.25,0,0.25,0.5]}},
   "detail":{"field":"c","type":"nominal"},"order":{"value":null},
   "color":{"datum":"α=1.0 β=1.0","type":"nominal","scale":{"range":["#0000ff"]},"legend":{"title":null,"legendX":44,"legendY":-29,"symbolStrokeColor":"#0000ff","encode":{"symbols":{"update":{"stroke":{"value":"#0000ff"}}}}}}}},
  {"transform":[{"filter":"datum.c>=500 && datum.c<550"}],"mark":{"type":"line","clip":true,"strokeWidth":0.75,"interpolate":"cardinal"},
   "encoding":{"x":{"field":"x","type":"quantitative","scale":{"domain":[-0.1,0.1],"reverse":true},"axis":null},
   "y":{"field":"y","type":"quantitative","scale":{"domain":[-0.5,0.5],"reverse":true},"axis":null},
   "detail":{"field":"c","type":"nominal"},"order":{"value":null},
   "color":{"datum":"α=1.0 β=1.0","type":"nominal"}}},
  {"transform":[{"filter":"datum.c>=550 && datum.c<600"}],"mark":{"type":"line","clip":true,"strokeWidth":1,"color":"#ff0000","interpolate":"cardinal"},
   "encoding":{"x":{"field":"x","type":"quantitative","scale":{"domain":[-0.1,0.1]},"axis":null},
   "y":{"field":"y","type":"quantitative","scale":{"domain":[-0.5,0.5]},"axis":null},
   "detail":{"field":"c","type":"nominal"},"order":{"value":null},
   "strokeDash":{"datum":"α=95/100 β=95/105","type":"nominal","scale":{"range":[[4,2]]},"legend":{"title":null,"legendX":9,"legendY":-18,"symbolStrokeColor":"#ff0000","symbolStrokeWidth":1}}}},
  {"transform":[{"filter":"datum.c>=550 && datum.c<600"}],"mark":{"type":"line","clip":true,"strokeWidth":1,"color":"#ff0000","interpolate":"cardinal"},
   "encoding":{"x":{"field":"x","type":"quantitative","scale":{"domain":[-0.1,0.1],"reverse":true},"axis":null},
   "y":{"field":"y","type":"quantitative","scale":{"domain":[-0.5,0.5],"reverse":true},"axis":null},
   "detail":{"field":"c","type":"nominal"},"order":{"value":null},
   "strokeDash":{"datum":"α=95/100 β=95/105","type":"nominal"}}}
 ],"resolve":{"scale":{"x":"independent","y":"independent"}}},
{"width":110,"height":87,"transform":[{"filter":"datum.c>=200 && datum.c<300"}],
 "layer":[
  {"mark":{"type":"line","clip":true,"strokeWidth":0.75,"interpolate":"cardinal"},
   "encoding":{"x":{"field":"x","type":"quantitative","scale":{"domain":[-0.1,0.1]},"axis":{"labels":false,"title":null,"values":[-0.1,-0.05,0,0.05,0.1]}},
   "y":{"field":"y","type":"quantitative","scale":{"domain":[-0.5,0.5]},"axis":{"labels":false,"title":null,"values":[-0.5,-0.25,0,0.25,0.5]}},
   "detail":{"field":"c","type":"nominal"},"order":{"value":null},
   "color":{"datum":"α=1.0 β=1.2","type":"nominal","scale":{"range":["#0000ff"]},"legend":{"title":null,"legendX":46,"legendY":-17}}}},
  {"mark":{"type":"line","clip":true,"strokeWidth":0.75,"interpolate":"cardinal"},
   "encoding":{"x":{"field":"x","type":"quantitative","scale":{"domain":[-0.1,0.1],"reverse":true},"axis":null},
   "y":{"field":"y","type":"quantitative","scale":{"domain":[-0.5,0.5],"reverse":true},"axis":null},
   "detail":{"field":"c","type":"nominal"},"order":{"value":null},
   "color":{"datum":"α=1.0 β=1.2","type":"nominal"}}}
 ],"resolve":{"scale":{"x":"independent","y":"independent"}}},
{"width":110,"height":87,"transform":[{"filter":"datum.c>=700 && datum.c<800"}],
 "layer":[
  {"mark":{"type":"line","clip":true,"strokeWidth":0.75,"interpolate":"cardinal"},
   "encoding":{"x":{"field":"x","type":"quantitative","scale":{"domain":[-0.1,0.1]},"axis":{"title":"ε","values":[-0.1,-0.05,0,0.05,0.1],"labelExpr":"''+datum.value","labelPadding":1,"labelFontSize":10.5,"titleY":17,"titleBaseline":"middle","titleFontSize":10.5}},
   "y":{"field":"y","type":"quantitative","scale":{"domain":[-0.5,0.5]},"axis":{"title":"ε̇","values":[-0.5,-0.25,0,0.25,0.5],"labelExpr":"''+datum.value"}},
   "detail":{"field":"c","type":"nominal"},"order":{"value":null},
   "color":{"datum":"α=1.2 β=0.8","type":"nominal","scale":{"range":["#0000ff"]},"legend":{"title":null,"legendX":46,"legendY":-17}}}},
  {"mark":{"type":"line","clip":true,"strokeWidth":0.75,"interpolate":"cardinal"},
   "encoding":{"x":{"field":"x","type":"quantitative","scale":{"domain":[-0.1,0.1],"reverse":true},"axis":null},
   "y":{"field":"y","type":"quantitative","scale":{"domain":[-0.5,0.5],"reverse":true},"axis":null},
   "detail":{"field":"c","type":"nominal"},"order":{"value":null},
   "color":{"datum":"α=1.2 β=0.8","type":"nominal"}}}
 ],"resolve":{"scale":{"x":"independent","y":"independent"}}},
{"width":110,"height":87,"transform":[{"filter":"datum.c>=800 && datum.c<900"}],
 "layer":[
  {"mark":{"type":"line","clip":true,"strokeWidth":0.75,"interpolate":"cardinal"},
   "encoding":{"x":{"field":"x","type":"quantitative","scale":{"domain":[-0.1,0.1]},"axis":{"title":"ε","values":[-0.1,-0.05,0,0.05,0.1],"labelExpr":"''+datum.value","labelPadding":1,"labelFontSize":10.5,"titleY":17,"titleBaseline":"middle","titleFontSize":10.5}},
   "y":{"field":"y","type":"quantitative","scale":{"domain":[-0.5,0.5]},"axis":{"labels":false,"title":null,"values":[-0.5,-0.25,0,0.25,0.5]}},
   "detail":{"field":"c","type":"nominal"},"order":{"value":null},
   "color":{"datum":"α=1.2 β=1.0","type":"nominal","scale":{"range":["#0000ff"]},"legend":{"title":null,"legendX":46,"legendY":-17}}}},
  {"mark":{"type":"line","clip":true,"strokeWidth":0.75,"interpolate":"cardinal"},
   "encoding":{"x":{"field":"x","type":"quantitative","scale":{"domain":[-0.1,0.1],"reverse":true},"axis":null},
   "y":{"field":"y","type":"quantitative","scale":{"domain":[-0.5,0.5],"reverse":true},"axis":null},
   "detail":{"field":"c","type":"nominal"},"order":{"value":null},
   "color":{"datum":"α=1.2 β=1.0","type":"nominal"}}}
 ],"resolve":{"scale":{"x":"independent","y":"independent"}}},
{"width":110,"height":87,"transform":[{"filter":"datum.c>=200 && datum.c<300"}],
 "layer":[
  {"mark":{"type":"line","clip":true,"strokeWidth":0.75,"interpolate":"cardinal"},
   "encoding":{"x":{"field":"x","type":"quantitative","scale":{"domain":[-0.1,0.1]},"axis":{"title":"ε","values":[-0.1,-0.05,0,0.05,0.1],"labelExpr":"''+datum.value","labelPadding":1,"labelFontSize":10.5,"titleY":17,"titleBaseline":"middle","titleFontSize":10.5}},
   "y":{"field":"y","type":"quantitative","scale":{"domain":[-0.5,0.5]},"axis":{"labels":false,"title":null,"values":[-0.5,-0.25,0,0.25,0.5]}},
   "detail":{"field":"c","type":"nominal"},"order":{"value":null},
   "color":{"datum":"α=1.2 β=1.2","type":"nominal","scale":{"range":["#0000ff"]},"legend":{"title":null,"legendX":46,"legendY":-17}}}},
  {"mark":{"type":"line","clip":true,"strokeWidth":0.75,"interpolate":"cardinal"},
   "encoding":{"x":{"field":"x","type":"quantitative","scale":{"domain":[-0.1,0.1],"reverse":true},"axis":null},
   "y":{"field":"y","type":"quantitative","scale":{"domain":[-0.5,0.5],"reverse":true},"axis":null},
   "detail":{"field":"c","type":"nominal"},"order":{"value":null},
   "color":{"datum":"α=1.2 β=1.2","type":"nominal"}}}
 ],"resolve":{"scale":{"x":"independent","y":"independent"}}}
]
}
